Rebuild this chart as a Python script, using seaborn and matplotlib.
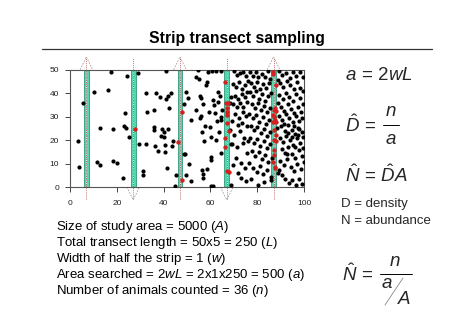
import matplotlib
matplotlib.use("Agg")
import matplotlib.pyplot as plt
import seaborn as sns
import pandas as pd
from matplotlib.lines import Line2D

# ---------------- data ----------------
strip_centers = [7, 27, 47, 67, 87]
arrow_dirs = ["up", "down", "up", "down", "up"]
x_ticks = [0, 20, 40, 60, 80, 100]
y_ticks = [0, 10, 20, 30, 40, 50]

black_left_x = [3.3, 4, 5.4, 10.4, 11.7, 12.7, 12.7, 16.2, 17.5, 18.5, 18.5, 20.1, 22.5, 23.2, 23.8, 23.6, 24.5, 25.2,
                29.2, 29.6, 31.3, 31.3, 32.4, 32.9, 32.3, 35.7, 35.9, 36.1, 36.4, 36.8, 37.4, 38.5, 38.7, 39.4, 40.3, 40,
                40.5, 40.8, 41, 41.3, 41, 41.7, 42, 42.1, 43.2, 43.7, 43.9, 45.1, 44.7, 48.8, 49.3, 48.8, 49.4, 49.4,
                50.9, 51.6, 51.5, 50.5]
black_left_y = [19.6, 8.4, 36, 40.6, 10.5, 9.4, 25.1, 41.2, 49, 24.6, 11.1, 10.1, 4, 25.9, 25.3, 31.4, 47.4, 21.2,
                48.4, 18.3, 7, 5, 40.2, 32.1, 18.2, 25.6, 24.2, 32.7, 17.3, 40.2, 15.5, 38.5, 21.6, 24.9, 23.6, 21.3,
                14.8, 17.8, 49.3, 8, 37.6, 38.9, 24.6, 33.7, 40.2, 17.5, 19.7, 5.1, 0.4, 14.2, 14.2, 35.5, 40.6, 5.1,
                10, 2.4, 28.6, 37.8]

black_mid_x = [54, 54.5, 54, 55, 55.5, 56, 56, 55.6, 56.8, 56.6, 57.2, 57.5, 56.3, 56.8, 56.8, 58.5, 58.2, 58.5, 58.9,
               59.5, 59.9, 60.3, 60.2, 60.3, 60.2, 61.2, 60.5, 60.9, 61.6, 61.9, 62.2, 62.6, 62.9, 63.3, 63.4, 63.6,
               64.2, 64.6, 64.6, 65, 64.7, 64.7, 68.3, 68.5, 68.8, 68.7, 68.6]
black_mid_y = [32.8, 49.9, 46.7, 45.9, 38.9, 38, 30.4, 29.3, 35.4, 23.6, 19.7, 26, 7.2, 5.4, 3.7, 7.5, 43.3, 44.9, 49.1,
               32.1, 25.4, 21.2, 12.8, 11.5, 0.6, 0.6, 49.3, 37, 35, 31.4, 19.9, 49.3, 28.3, 40.6, 36.4, 23.6,
               38.9, 30, 28.7, 32.8, 14.3, 49.3, 35.7, 24.5, 38.5, 18.2, 0.9]

black_b1_x = [70.2, 71.5, 72.8, 74.1, 75.3, 69.5, 71.0, 72.4, 73.6, 74.8, 76.0, 70.5, 72.0, 73.3, 74.6, 75.8, 69.8,
              71.3, 72.7, 74.0, 75.5, 70.6, 72.2, 73.8, 75.1, 69.4, 71.8, 73.5, 75.7, 70.0, 72.6, 74.4, 69.2, 71.4,
              73.9, 75.6, 70.8, 72.9, 74.7, 71.9, 73.2, 75.0, 69.7, 76.2]
black_b1_y = [49.5, 47.8, 48.6, 49.0, 47.2, 44.1, 42.5, 44.8, 41.9, 43.6, 45.3, 39.0, 37.6, 39.8, 38.2, 40.5, 35.2,
              33.9, 35.8, 34.1, 36.4, 31.0, 29.5, 31.9, 30.3, 28.0, 26.4, 27.2, 25.8, 22.3, 23.9, 21.0, 18.4, 16.9,
              18.6, 14.5, 12.2, 10.4, 8.0, 6.1, 3.9, 2.4, 9.3, 19.8]

black_b2_x = [76.8, 78.0, 79.3, 80.5, 81.9, 83.2, 84.6, 85.5, 77.3, 78.6, 79.9, 81.2, 82.5, 83.8, 85.1, 76.9, 78.2,
              79.5, 80.8, 82.1, 83.4, 84.7, 77.6, 78.9, 80.2, 81.5, 82.8, 84.1, 85.4, 76.7, 78.0, 79.6, 80.9, 82.3,
              83.6, 84.9, 77.4, 78.8, 80.1, 81.6, 82.9, 84.3, 85.6, 77.1, 78.5, 79.9, 81.3, 82.7, 84.0, 85.3, 77.8,
              79.2, 80.6, 82.0, 83.5, 84.8, 76.5, 78.3, 79.8, 81.1, 82.6, 84.2, 85.7, 77.2, 80.3, 83.0,
              86.0, 88.9, 86.2, 88.7, 89.0, 88.6, 86.1]
black_b2_y = [48.9, 47.5, 49.2, 46.8, 48.3, 47.0, 49.4, 46.0, 44.2, 42.8, 44.9, 41.6, 43.7, 42.1, 44.5, 40.3, 38.7,
              40.9, 37.4, 39.6, 36.8, 38.9, 35.5, 33.6, 35.9, 32.8, 34.7, 31.9, 33.8, 31.2, 29.4, 30.8, 27.9, 29.8,
              26.7, 28.5, 26.0, 24.1, 25.7, 22.9, 24.6, 21.8, 23.5, 20.9, 18.8, 20.3, 17.6, 19.4, 16.5, 18.2, 15.4,
              13.2, 14.9, 11.8, 13.7, 10.6, 10.1, 8.2, 6.5, 8.9, 5.4, 7.3, 4.1, 3.3, 0.9, 2.2,
              40.2, 45.5, 12.5, 6.0, 35.9, 25.0, 3.0]

black_b3_x = [89.3, 90.8, 92.4, 93.9, 95.2, 96.6, 98.1, 99.5, 89.7, 91.2, 92.7, 94.1, 95.6, 97.0, 98.4, 99.6, 89.5,
              90.9, 92.3, 93.8, 95.3, 96.7, 98.2, 99.4, 90.1, 91.6, 93.0, 94.5, 95.9, 97.4, 98.8, 89.2, 90.7, 92.2,
              93.6, 95.1, 96.5, 97.9, 99.3, 90.3, 91.8, 93.2, 94.7, 96.1, 97.6, 99.0, 89.6, 91.0, 92.5, 94.0, 95.4,
              96.9, 98.3, 99.7, 90.4, 91.9, 93.3, 94.8, 96.2, 97.7, 99.1, 89.8, 91.3, 92.8, 94.3, 95.7, 97.2, 98.6,
              99.8, 90.6, 92.0, 93.5, 95.0, 96.4, 97.9, 99.2, 89.4, 91.4, 94.9, 98.0, 92.9, 96.0, 99.6, 93.1, 95.8,
              97.3]
black_b3_y = [49.6, 47.9, 48.7, 46.5, 49.1, 47.3, 48.9, 46.8, 44.3, 42.6, 45.1, 43.3, 41.7, 44.6, 42.4, 40.9, 39.2,
              37.5, 40.1, 38.4, 36.6, 39.5, 37.8, 35.4, 34.0, 32.3, 35.2, 33.1, 31.6, 34.3, 32.0, 30.1, 28.4, 31.0,
              29.2, 27.6, 30.4, 28.1, 29.6, 25.8, 23.9, 26.5, 24.4, 22.8, 25.2, 23.4, 21.0, 19.3, 21.9, 19.9, 18.1,
              20.8, 18.7, 21.5, 16.2, 14.6, 16.9, 14.0, 12.4, 15.6, 13.3, 11.1, 9.5, 11.8, 8.7, 6.9, 9.9, 7.8,
              10.5, 5.2, 3.6, 1.8, 2.9, 0.8, 3.4, 1.2, 7.4, 26.9, 21.3, 24.6, 13.9, 17.2, 16.8, 23.0, 25.9,
              22.1]

red_x = [27.6, 46.2, 47.8, 47.8,
         66.3, 66.6, 67.4, 66.9, 66.9, 67.0, 67.9, 66.4, 66.4, 66.9, 67.9, 67.2,
         86.8, 88.2, 87.6, 87.1, 87.9, 86.8, 87.3, 87.6, 86.8, 87.9, 87.1, 88.2, 87.1, 87.9, 87.3, 86.8,
         87.6, 87.6, 87.1, 86.6]
red_y = [24.9, 19.3, 31.8, 3.0,
         44.6, 35.9, 35.7, 33.8, 32.0, 27.1, 24.0, 20.7, 17.2, 7.0, 6.5, 30.5,
         49.1, 43.5, 33.5, 32.8, 32.4, 30.7, 30.0, 28.6, 27.8, 27.8, 24.3, 22.2, 20.0, 19.7, 15.8, 10.8,
         8.7, 8.0, 13.6, 48.0]

black_x = black_left_x + black_mid_x + black_b1_x + black_b2_x + black_b3_x
black_y = black_left_y + black_mid_y + black_b1_y + black_b2_y + black_b3_y
df_black = pd.DataFrame({"x": black_x, "y": black_y})
df_red = pd.DataFrame({"x": red_x, "y": red_y})

# ---------------- style ----------------
sns.set_style("white")
plt.rcParams["font.family"] = ["Liberation Sans", "DejaVu Sans"]
plt.rcParams["mathtext.fontset"] = "custom"
plt.rcParams["mathtext.rm"] = "Liberation Sans"
plt.rcParams["mathtext.it"] = "Liberation Sans:italic"
plt.rcParams["mathtext.bf"] = "Liberation Sans:bold"

W, H = 474, 336
fig = plt.figure(figsize=(W / 100, H / 100), dpi=100)
fig.patch.set_facecolor("white")

def fx(px):
    return px / W

def fy(py):
    return 1 - py / H

ax = fig.add_axes([fx(70), fy(187), fx(304) - fx(70), fy(69.7) - fy(187)])
ax.set_xlim(0, 100)
ax.set_ylim(0, 50)

# strips
for c, d in zip(strip_centers, arrow_dirs):
    ax.axvspan(c - 1, c + 1, facecolor="#55d4ae", edgecolor="#2f9a78", linewidth=0.6, zorder=1)
    ax.plot([c, c], [0, 50], color="white", linestyle=(0, (2, 1.5)), linewidth=0.6, zorder=2)
    ax.plot([c, c], [-5, 55], color="#b04040", linestyle=(0, (1, 1.5)), linewidth=0.6,
            clip_on=False, zorder=2)
    if d == "up":
        ax.plot([c - 2.7, c, c + 2.7], [50, 55.5, 50], color="#a0a0a0", linestyle=(0, (2, 1.5)),
                linewidth=0.6, clip_on=False, zorder=2)
    else:
        ax.plot([c - 2.7, c, c + 2.7], [0, -5.5, 0], color="#a0a0a0", linestyle=(0, (2, 1.5)),
                linewidth=0.6, clip_on=False, zorder=2)

sns.scatterplot(data=df_black, x="x", y="y", color="black", s=9, linewidth=0, ax=ax, zorder=3)
sns.scatterplot(data=df_red, x="x", y="y", color="#d42020", s=10, linewidth=0, ax=ax, zorder=4)

ax.set_xticks(x_ticks)
ax.set_yticks(y_ticks)
ax.set_xticklabels([str(t) for t in x_ticks])
ax.set_yticklabels([str(t) for t in y_ticks])
ax.set_xlabel("")
ax.set_ylabel("")
ax.tick_params(axis="both", direction="out", length=3.4, width=0.7, color="#444444",
               labelsize=6, labelcolor="#222222", bottom=True, left=True)
ax.tick_params(axis="x", pad=6)
ax.tick_params(axis="y", pad=4.5)
for sp in ax.spines.values():
    sp.set_color("#555555")
    sp.set_linewidth(0.8)

# title and rule
fig.text(0.5, fy(38), "Strip transect sampling", ha="center", va="center",
         fontsize=11.3, fontweight="bold", color="black")
fig.add_artist(Line2D([fx(42), fx(432)], [fy(49), fy(49)], color="#333333", linewidth=0.9))

# bottom text
lines = [
    r"Size of study area = 5000 ($\it{A}$)",
    r"Total transect length = 50x5 = 250 ($\it{L}$)",
    r"Width of half the strip = 1 ($\it{w}$)",
    r"Area searched = 2$\it{wL}$ = 2x1x250 = 500 ($\it{a}$)",
    r"Number of animals counted = 36 ($\it{n}$)",
]
for i, t in enumerate(lines):
    fig.text(fx(56), fy(227 + 16 * i), t, ha="left", va="center", fontsize=9.5, color="black")

# formulas on the right
fs = 13.5
fig.text(fx(345), fy(75), r"$a\,=\,2wL$", ha="left", va="center", fontsize=fs)

fig.text(fx(345), fy(125), r"$\hat{D}\,=$", ha="left", va="center", fontsize=fs)
fig.add_artist(Line2D([fx(383), fx(399)], [fy(125), fy(125)], color="black", linewidth=0.7))
fig.text(fx(391), fy(112), r"$n$", ha="center", va="center", fontsize=fs)
fig.text(fx(391), fy(139), r"$a$", ha="center", va="center", fontsize=fs)

fig.text(fx(345), fy(175), r"$\hat{N}\,=\,\hat{D}A$", ha="left", va="center", fontsize=fs)
fig.text(fx(341), fy(204), "D = density", ha="left", va="center", fontsize=9.5)
fig.text(fx(341), fy(221), "N = abundance", ha="left", va="center", fontsize=9.5)

fig.text(fx(342), fy(274), r"$\hat{N}\,=$", ha="left", va="center", fontsize=fs)
fig.add_artist(Line2D([fx(380), fx(412)], [fy(274), fy(274)], color="black", linewidth=0.7))
fig.text(fx(395), fy(262), r"$n$", ha="center", va="center", fontsize=fs)
fig.text(fx(387), fy(284), r"$a$", ha="center", va="center", fontsize=fs)
fig.add_artist(Line2D([fx(385), fx(403)], [fy(305), fy(278)], color="#888888", linewidth=0.6))
fig.text(fx(404), fy(300), r"$A$", ha="center", va="center", fontsize=fs)

fig.savefig("out.png", dpi=100, facecolor="white")
